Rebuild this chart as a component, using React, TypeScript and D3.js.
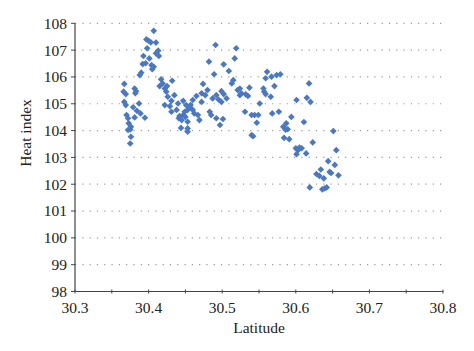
import React from "react";
import * as d3 from "d3";

const latitude: number[] = [
  30.407, 30.397, 30.400, 30.403, 30.410, 30.398, 30.413, 30.393, 30.401, 30.410,
  30.414, 30.392, 30.396, 30.404, 30.407, 30.405, 30.390, 30.388, 30.417, 30.419,
  30.415, 30.422, 30.424, 30.426, 30.367, 30.366, 30.369, 30.381, 30.383, 30.382,
  30.367, 30.369, 30.379, 30.387, 30.384, 30.370, 30.372, 30.381, 30.389, 30.395,
  30.373, 30.376, 30.375, 30.372, 30.376, 30.375,
  30.491, 30.519, 30.482, 30.502, 30.517, 30.489, 30.509, 30.515, 30.513, 30.432,
  30.425, 30.474, 30.480, 30.499, 30.502, 30.521, 30.435, 30.465, 30.472, 30.477,
  30.492, 30.495, 30.506, 30.487, 30.460, 30.457, 30.451, 30.447, 30.431, 30.440,
  30.422, 30.472, 30.499, 30.456, 30.453, 30.449, 30.429, 30.438, 30.431, 30.447,
  30.442, 30.450, 30.460, 30.462, 30.467, 30.469, 30.485, 30.492, 30.501, 30.441,
  30.445, 30.453, 30.444, 30.453, 30.453, 30.497, 30.483, 30.524,
  30.561, 30.559, 30.567, 30.574, 30.579, 30.571, 30.618, 30.524, 30.537, 30.526,
  30.532, 30.535, 30.556, 30.557, 30.559, 30.566, 30.601, 30.615, 30.620, 30.551,
  30.531, 30.540, 30.544, 30.549, 30.568, 30.577, 30.547, 30.594, 30.611, 30.587,
  30.583, 30.542, 30.584, 30.591, 30.540,
  30.651, 30.623, 30.655, 30.644, 30.653, 30.634, 30.628, 30.632, 30.646, 30.648,
  30.658, 30.638, 30.619, 30.636, 30.639, 30.642, 30.600, 30.603, 30.605, 30.608,
  30.601, 30.614, 30.589, 30.586
];

const heatIndex: number[] = [
  107.72, 107.40, 107.35, 107.29, 107.28, 107.07, 106.98, 106.78, 106.69, 106.88,
  106.78, 106.48, 106.51, 106.44, 106.38, 106.29, 106.16, 106.07, 105.91, 105.76,
  105.66, 105.57, 105.45, 105.26, 105.74, 105.45, 105.36, 105.57, 105.47, 105.39,
  105.07, 104.95, 104.87, 105.01, 104.74, 104.58, 104.46, 104.49, 104.64, 104.48,
  104.27, 104.14, 104.04, 104.02, 103.77, 103.52,
  107.19, 107.07, 106.57, 106.47, 106.69, 106.10, 106.22, 105.88, 105.76, 105.86,
  105.66, 105.74, 105.51, 105.47, 105.36, 105.51, 105.32, 105.29, 105.39, 105.32,
  105.32, 105.16, 105.20, 105.20, 105.14, 104.95, 104.95, 105.11, 105.11, 105.01,
  104.95, 105.07, 105.07, 104.87, 104.77, 104.70, 104.91, 104.77, 104.70, 104.58,
  104.54, 104.51, 104.77, 104.64, 104.58, 104.39, 104.58, 104.46, 104.43, 104.46,
  104.39, 104.33, 104.10, 104.08, 103.96, 104.21, 104.70, 105.32,
  106.19, 105.95, 106.01, 106.07, 106.10, 105.66, 105.76, 105.57, 105.60, 105.39,
  105.35, 105.29, 105.57, 105.45, 105.36, 105.26, 105.14, 105.22, 105.07, 105.01,
  104.70, 104.58, 104.58, 104.58, 104.64, 104.70, 104.29, 104.51, 104.32, 104.27,
  104.14, 103.79, 103.73, 103.68, 103.83,
  103.98, 103.56, 103.27, 102.86, 102.72, 102.55, 102.38, 102.31, 102.46, 102.42,
  102.33, 102.22, 101.88, 101.81, 101.84, 101.88, 103.34, 103.27, 103.37, 103.34,
  103.12, 103.15, 104.05, 104.03
];

const xTicks: number[] = [30.3, 30.4, 30.5, 30.6, 30.7, 30.8];
const xMinorTicks: number[] = [30.3, 30.35, 30.4, 30.45, 30.5, 30.55, 30.6, 30.65, 30.7, 30.75, 30.8];
const yTicks: number[] = [98, 99, 100, 101, 102, 103, 104, 105, 106, 107, 108];

const W = 474;
const H = 351;
const left = 75;
const right = 443;
const top = 23.3;
const bottom = 291.5;

export default function App() {
  const x = d3.scaleLinear().domain([30.3, 30.8]).range([left, right]);
  const y = d3.scaleLinear().domain([98, 108]).range([bottom, top]);
  const font = "'Liberation Serif', 'DejaVu Serif', serif";
  const diamond = d3.symbol().type(d3.symbolSquare).size(22)() as string;
  const points = latitude.map((lat, i) => ({ lat, hi: heatIndex[i] }));

  return (
    <svg width={W} height={H} style={{ position: "absolute", left: 0, top: 0, background: "#fff" }}>
      {yTicks.filter((t) => t > 98).map((t) => (
        <line key={"g" + t} x1={left} x2={right} y1={y(t)} y2={y(t)}
          stroke="#9a9a9a" strokeWidth={1.2} strokeDasharray="1.2 6.1" />
      ))}
      <line x1={left} x2={left} y1={top} y2={bottom} stroke="#444" strokeWidth={1.2} />
      <line x1={left} x2={right} y1={bottom} y2={bottom} stroke="#444" strokeWidth={1.2} />
      {yTicks.map((t) => (
        <g key={"y" + t}>
          <line x1={left - 4} x2={left} y1={y(t)} y2={y(t)} stroke="#444" strokeWidth={1} />
          <text x={left - 8} y={y(t)} dy="0.35em" textAnchor="end" fontFamily={font} fontSize={15.5} fill="#222">{t}</text>
        </g>
      ))}
      {xMinorTicks.map((t) => (
        <line key={"m" + t} x1={x(t)} x2={x(t)} y1={bottom - 2} y2={bottom + 2} stroke="#444" strokeWidth={1} />
      ))}
      {xTicks.map((t) => (
        <text key={"x" + t} x={x(t)} y={bottom + 21} textAnchor="middle" fontFamily={font} fontSize={15.5} fill="#222">{t.toFixed(1)}</text>
      ))}
      <text x={(left + right) / 2} y={333} textAnchor="middle" fontFamily={font} fontSize={15.5} fill="#222">Latitude</text>
      <text transform={`translate(31,133) rotate(-90)`} textAnchor="middle" fontFamily={font} fontSize={15.5} fill="#222">Heat index</text>
      {points.map((p, i) => (
        <path key={i} d={diamond} transform={`translate(${x(p.lat)},${y(p.hi)}) rotate(45)`} fill="#4a78c2" />
      ))}
    </svg>
  );
}
